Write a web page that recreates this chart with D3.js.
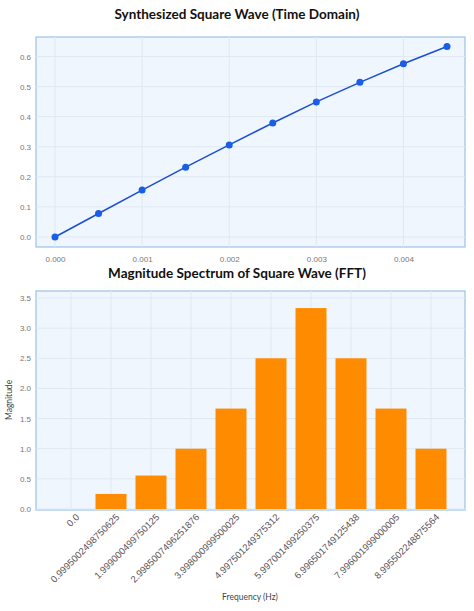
<!DOCTYPE html>
<html><head><meta charset="utf-8">
<script src="https://cdn.jsdelivr.net/npm/d3@7"></script>
<style>
body{margin:0;background:#fff;font-family:Lato,"Open Sans",sans-serif}
.tick text{fill:#777;font-size:8px}
.xl .tick text{font-size:9.5px;fill:#555}
.title{font-weight:bold;font-size:13.5px;fill:#111}
</style></head><body>
<svg id="c" width="474" height="611"></svg>
<script>
// time domain samples
var timeX = [0, 0.0005, 0.001, 0.0015, 0.002, 0.0025, 0.003, 0.0035, 0.004, 0.0045];
var timeY = [0, 0.078, 0.156, 0.232, 0.306, 0.379, 0.449, 0.514, 0.576, 0.633];
var timeTicks = [0, 0.001, 0.002, 0.003, 0.004];
// spectrum
var freqLabels = ["0.0", "0.9995002498750625", "1.999000499750125", "2.9985007496251876",
  "3.998000999500025", "4.997501249375312", "5.997001499250375", "6.996501749125438",
  "7.996001999000005", "8.995502248875564"];
var magnitude = [0, 0.25, 0.555, 1.0, 1.666, 2.5, 3.333, 2.5, 1.666, 1.0];
var magTicks = [0, 0.5, 1, 1.5, 2, 2.5, 3, 3.5];

var svg = d3.select("#c");
var gridCol = "#dfe8f3", frameCol = "#9dc0ea", bg = "#f0f6fd";

function panel(x0, y0, w, h) {
    svg.append("rect").attr("x", x0).attr("y", y0).attr("width", w).attr("height", h)
        .attr("fill", bg).attr("stroke", frameCol).attr("stroke-width", 1.2);
}

/*
 * Top chart
 */
var x1 = d3.scaleLinear().domain([0, 0.0045]).range([55, 447]);
var y1 = d3.scaleLinear().domain([0, 0.6]).range([237, 56.5]);
svg.append("text").attr("class", "title").attr("x", 237).attr("y", 19).attr("text-anchor", "middle")
    .text("Synthesized Square Wave (Time Domain)");
panel(36, 37, 429, 210);
svg.append("g").selectAll("line").data(timeTicks).join("line")
    .attr("x1", d => x1(d)).attr("x2", d => x1(d)).attr("y1", 37).attr("y2", 247).attr("stroke", gridCol);
svg.append("g").selectAll("line").data(y1.ticks(6)).join("line")
    .attr("x1", 36).attr("x2", 465).attr("y1", d => y1(d)).attr("y2", d => y1(d)).attr("stroke", gridCol);
svg.append("g").attr("transform", "translate(0,250)")
    .call(d3.axisBottom(x1).tickValues(timeTicks).tickFormat(d3.format(".3f")).tickSize(0).tickPadding(6))
    .call(g => g.select(".domain").remove());
svg.append("g").attr("transform", "translate(33,0)")
    .call(d3.axisLeft(y1).ticks(6).tickFormat(d3.format(".1f")).tickSize(0).tickPadding(2))
    .call(g => g.select(".domain").remove());
var pts = timeX.map((d, i) => [d, timeY[i]]);
svg.append("path").datum(pts).attr("fill", "none").attr("stroke", "#1a4fd0").attr("stroke-width", 1.5)
    .attr("d", d3.line().x(d => x1(d[0])).y(d => y1(d[1])));
svg.append("g").selectAll("circle").data(pts).join("circle")
    .attr("cx", d => x1(d[0])).attr("cy", d => y1(d[1])).attr("r", 3.5).attr("fill", "#1a5de8");

/*
 * Bottom chart
 */
var x2 = d3.scaleBand().domain(freqLabels).range([51, 451]).paddingInner(0.225).paddingOuter(0.1125);
var y2 = d3.scaleLinear().domain([0, 3.5]).range([509, 298]);
svg.append("text").attr("class", "title").attr("x", 237).attr("y", 278).attr("text-anchor", "middle")
    .text("Magnitude Spectrum of Square Wave (FFT)");
panel(36, 291, 429, 219);
svg.append("g").selectAll("line").data(freqLabels).join("line")
    .attr("x1", d => x2(d) + x2.bandwidth() / 2).attr("x2", d => x2(d) + x2.bandwidth() / 2)
    .attr("y1", 291).attr("y2", 510).attr("stroke", gridCol);
svg.append("g").selectAll("line").data(magTicks).join("line")
    .attr("x1", 36).attr("x2", 465).attr("y1", d => y2(d)).attr("y2", d => y2(d)).attr("stroke", gridCol);
svg.append("g").selectAll("rect").data(magnitude).join("rect")
    .attr("x", (d, i) => x2(freqLabels[i])).attr("width", x2.bandwidth())
    .attr("y", d => y2(d)).attr("height", d => y2(0) - y2(d)).attr("fill", "#ff8c00");
svg.append("g").attr("class", "xl").attr("transform", "translate(0,513)")
    .call(d3.axisBottom(x2).tickSize(0).tickPadding(4))
    .call(g => g.select(".domain").remove())
    .selectAll("text").attr("text-anchor", "end").attr("dx", "0.3em").attr("dy", "0.6em")
    .attr("transform", "rotate(-45)");
svg.append("g").attr("transform", "translate(33,0)")
    .call(d3.axisLeft(y2).tickValues(magTicks).tickFormat(d3.format(".1f")).tickSize(0).tickPadding(2))
    .call(g => g.select(".domain").remove());
svg.append("text").attr("x", 250).attr("y", 600).attr("text-anchor", "middle")
    .attr("font-size", 8.5).attr("fill", "#444").text("Frequency (Hz)");
svg.append("text").attr("transform", "translate(12,400) rotate(-90)").attr("text-anchor", "middle")
    .attr("font-size", 8.5).attr("fill", "#444").text("Magnitude");
</script></body></html>
